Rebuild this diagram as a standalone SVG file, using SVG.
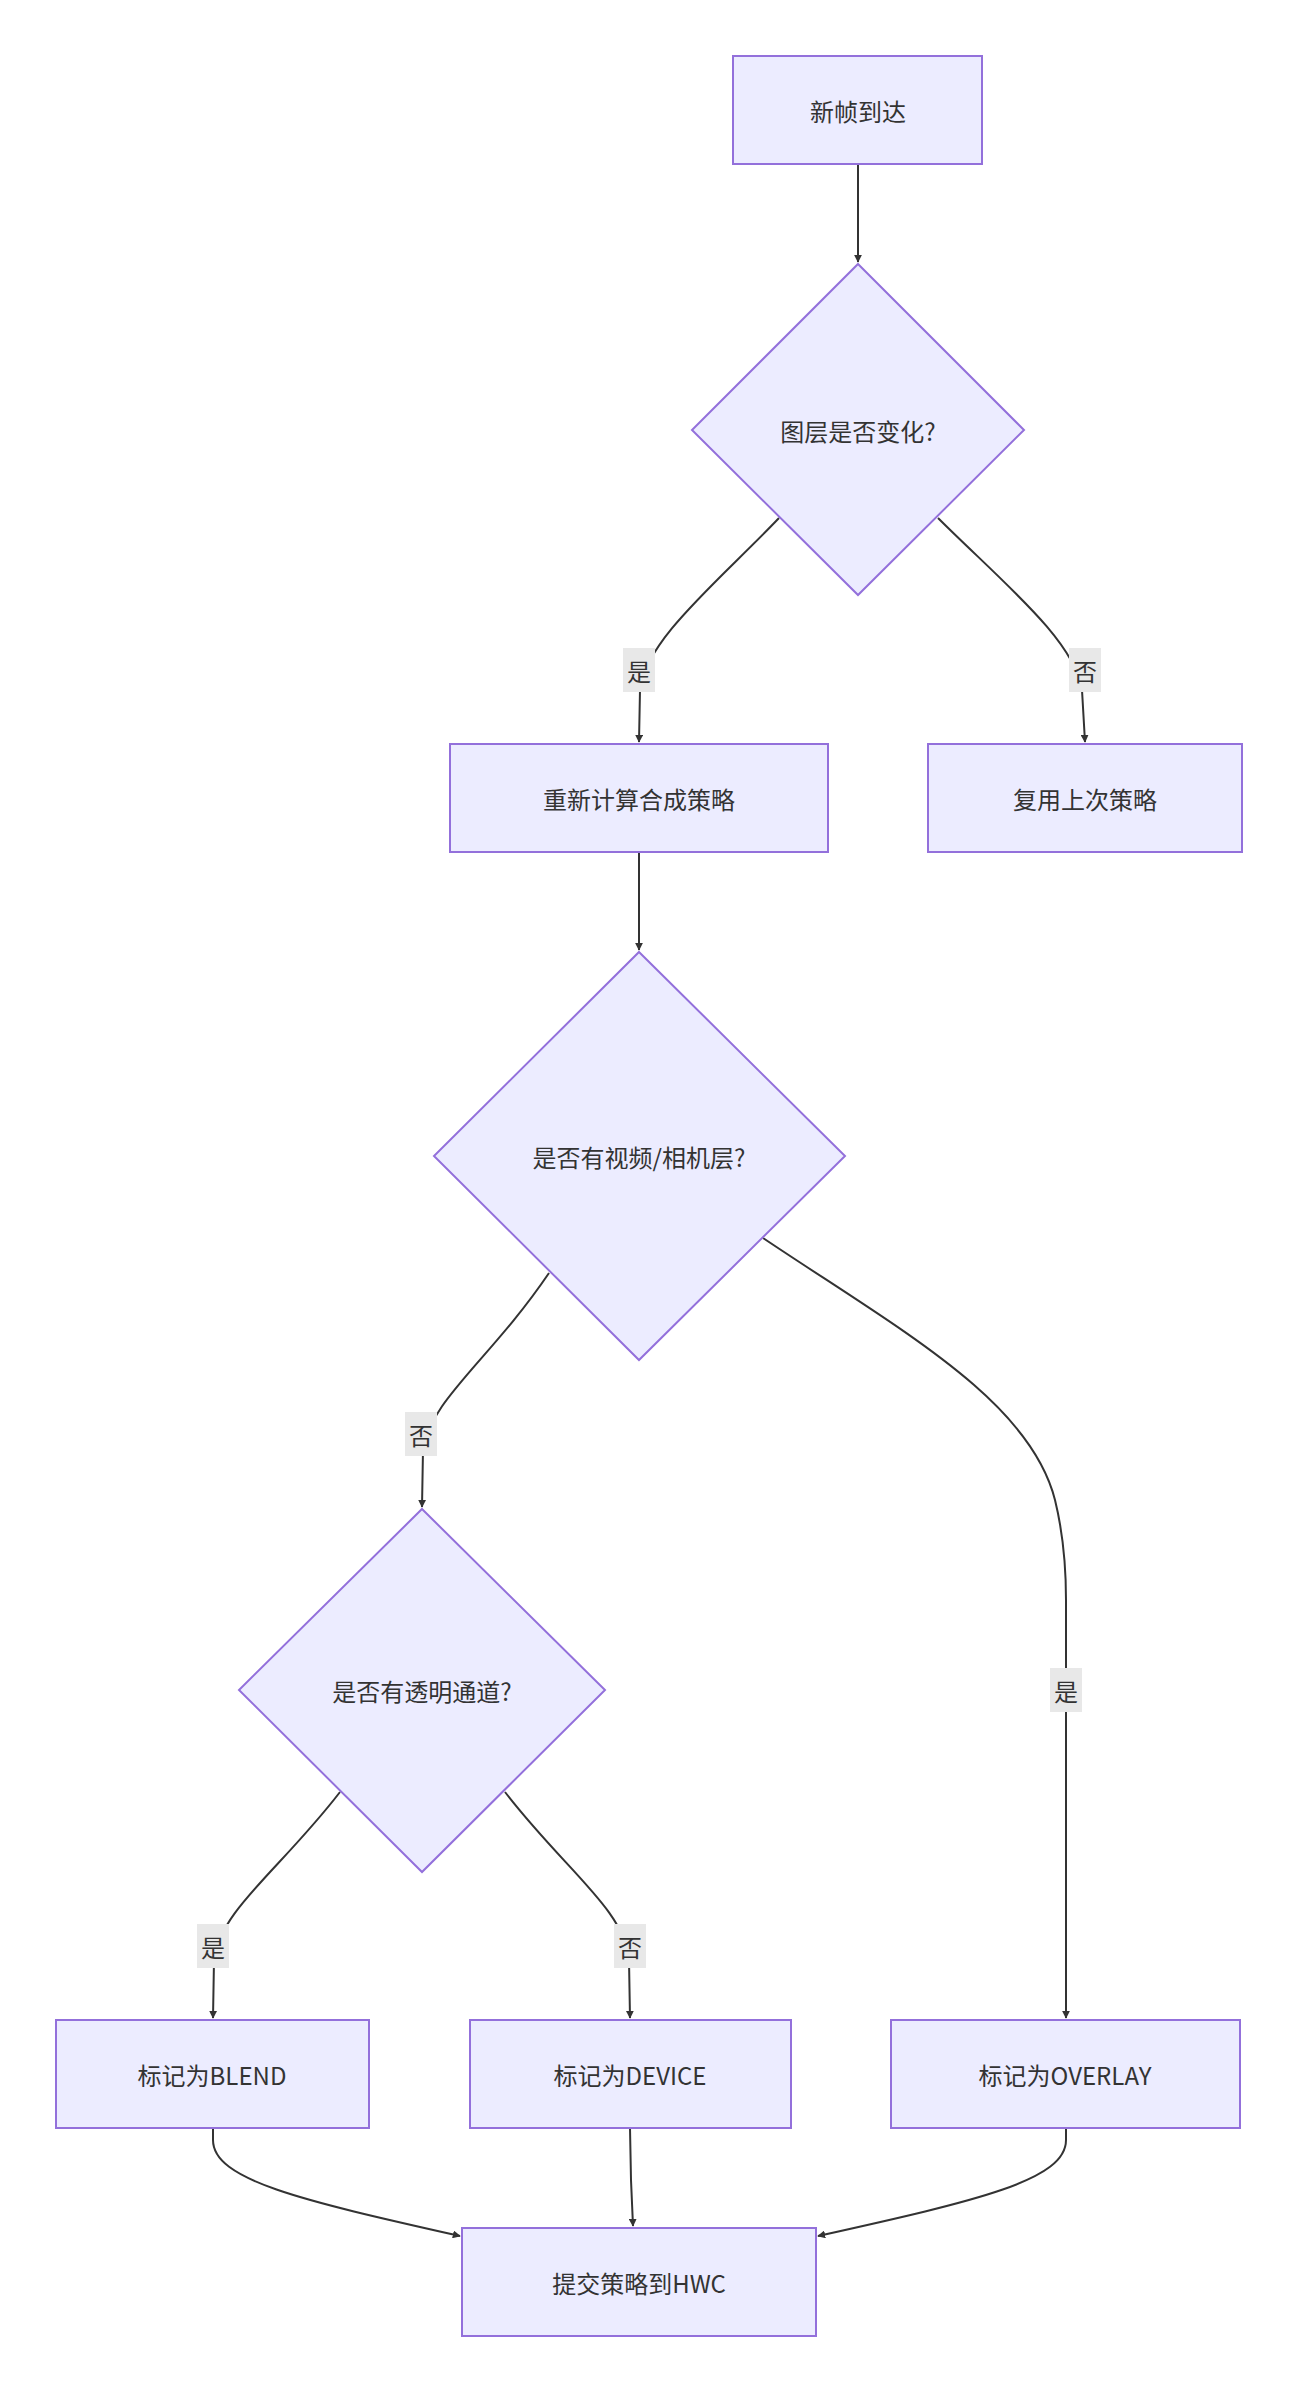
<svg xmlns="http://www.w3.org/2000/svg" width="1292" height="2392" viewBox="0 0 1292 2392">
<style>
.n{fill:#ECECFF;stroke:#9370DB;stroke-width:2}
.t{font-family:"Noto Sans CJK SC","Liberation Sans",sans-serif;font-size:24px;fill:#333;text-anchor:middle;dominant-baseline:central}
.e{fill:none;stroke:#333;stroke-width:2;marker-end:url(#a)}
.lb{fill:#e8e8e8}
</style>
<defs><marker id="a" viewBox="0 0 10 10" refX="9" refY="5" markerWidth="8" markerHeight="8" markerUnits="userSpaceOnUse" orient="auto"><path d="M0,0L10,5L0,10z" fill="#333"/></marker></defs>
<rect width="1292" height="2392" fill="#fff"/>
<g id="edges">
<path class="e" d="M858,164 L858,262"/>
<path class="e" d="M779,518 C720,580 645,640 640,690 L639,742"/>
<path class="e" d="M938,518 C1000,580 1075,640 1082,690 L1085,742"/>
<path class="e" d="M639,852 L639,950"/>
<path class="e" d="M549,1273 C490,1360 430,1400 423,1450 L422,1507"/>
<path class="e" d="M763,1238 C900,1330 1030,1400 1055,1500 Q1066,1545 1066,1600 L1066,2018"/>
<path class="e" d="M340,1792 C280,1870 220,1910 214,1960 L213,2018"/>
<path class="e" d="M505,1792 C565,1870 625,1910 629,1960 L630,2018"/>
<path class="e" d="M213,2128 L213,2140 C213,2180 300,2200 460,2236"/>
<path class="e" d="M630,2128 L631,2180 L633,2226"/>
<path class="e" d="M1066,2128 L1066,2140 C1066,2180 980,2200 818,2236"/>
<rect class="lb" x="623" y="648" width="32" height="44"/><text class="t" x="639" y="670">是</text>
<rect class="lb" x="1069" y="648" width="32" height="44"/><text class="t" x="1085" y="670">否</text>
<rect class="lb" x="405" y="1412" width="32" height="44"/><text class="t" x="421" y="1434">否</text>
<rect class="lb" x="1050" y="1668" width="32" height="44"/><text class="t" x="1066" y="1690">是</text>
<rect class="lb" x="197" y="1924" width="32" height="44"/><text class="t" x="213" y="1946">是</text>
<rect class="lb" x="614" y="1924" width="32" height="44"/><text class="t" x="630" y="1946">否</text>
</g>
<g id="n1"><rect class="n" x="733" y="56" width="249" height="108"/><text class="t" x="858" y="110">新帧到达</text></g>
<g id="n2"><polygon class="n" points="858,264 1024,430 858,595 692,430"/><text class="t" x="858" y="430">图层是否变化?</text></g>
<g id="n3"><rect class="n" x="450" y="744" width="378" height="108"/><text class="t" x="639" y="798">重新计算合成策略</text></g>
<g id="n4"><rect class="n" x="928" y="744" width="314" height="108"/><text class="t" x="1085" y="798">复用上次策略</text></g>
<g id="n5"><polygon class="n" points="639,952 845,1156 639,1360 434,1156"/><text class="t" x="639" y="1156">是否有视频/相机层?</text></g>
<g id="n6"><polygon class="n" points="422,1509 605,1690 422,1872 239,1690"/><text class="t" x="422" y="1690">是否有透明通道?</text></g>
<g id="n7"><rect class="n" x="56" y="2020" width="313" height="108"/><text class="t" x="212" y="2074">标记为BLEND</text></g>
<g id="n8"><rect class="n" x="470" y="2020" width="321" height="108"/><text class="t" x="630" y="2074">标记为DEVICE</text></g>
<g id="n9"><rect class="n" x="891" y="2020" width="349" height="108"/><text class="t" x="1065" y="2074">标记为OVERLAY</text></g>
<g id="n10"><rect class="n" x="462" y="2228" width="354" height="108"/><text class="t" x="639" y="2282">提交策略到HWC</text></g>
</svg>
